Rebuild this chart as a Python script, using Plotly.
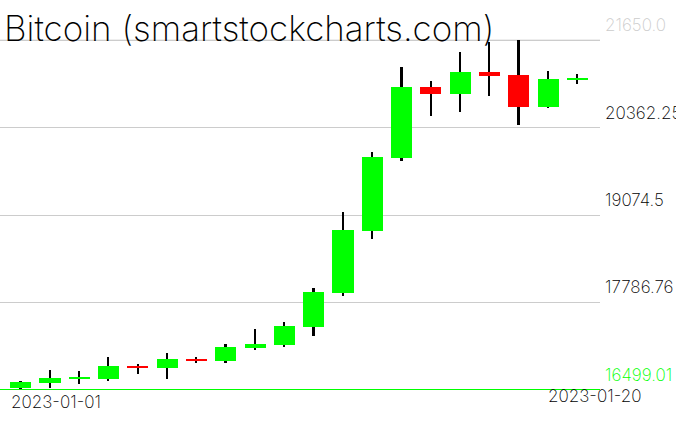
import datetime as dt
import plotly.graph_objects as go

dates = ['2023-01-%02d' % d for d in range(1, 21)]
opens = [16533, 16606, 16665, 16661, 16852, 16828, 16956, 16931, 17122, 17162,
	17427, 17928, 18845, 19921, 20962, 20863, 21183, 21139, 20672, 21070]
highs = [16632, 16794, 16779, 16985, 16882, 17044, 16985, 17177, 17397, 17501,
	18001, 19121, 20005, 21257, 21051, 21478, 21630, 21650.0, 21198, 21154]
lows = [16499.01, 16533, 16592, 16636, 16739, 16665, 16901, 16897, 17088, 17137,
	17294, 17888, 18719, 19872, 20539, 20598, 20834, 20407, 20657, 21011]
closes = [16617, 16676, 16685, 16852, 16827, 16956, 16931, 17132, 17181, 17442,
	17942, 18856, 19935, 20962, 20863, 21183, 21129, 20672, 21080, 21095]

ytick_vals = [16499.01, 17786.76, 19074.5, 20362.25, 21650.0]
ytick_labels = ['16499.01', '17786.76', '19074.5', '20362.25', '21650.0']
ytick_colors = ['#00ff00', 'black', 'black', 'black', '#cccccc']
xlabels = ['2023-01-01', '2023-01-20']

UP = '#00ff00'
DOWN = '#ff0000'
GRID = '#cccccc'
DAY = 86400000
FONT = 'Inter'
W = 200

body_base = [min(o, c) for o, c in zip(opens, closes)]
body_len = [abs(c - o) for o, c in zip(opens, closes)]
body_col = [UP if c >= o else DOWN for o, c in zip(opens, closes)]

fig = go.Figure()
# wicks first so the bodies sit on top of them
fig.add_trace(go.Bar(x=dates, y=[h - l for h, l in zip(highs, lows)], base=lows,
	width=0.06 * DAY, marker=dict(color='black', line=dict(width=0)), hoverinfo='skip'))
fig.add_trace(go.Bar(x=dates, y=body_len, base=body_base,
	width=0.72 * DAY, marker=dict(color=body_col, line=dict(width=0))))

d0 = dt.datetime.fromisoformat(dates[0])
d1 = dt.datetime.fromisoformat(dates[-1])

fig.update_layout(
	width=676, height=431,
	margin=dict(l=0, r=76, t=38, b=41),
	paper_bgcolor='white', plot_bgcolor='white',
	showlegend=False, barmode='overlay', bargap=0,
	font=dict(family=FONT, size=17, color='black', weight=W),
	xaxis=dict(type='date', range=[d0 - dt.timedelta(days=0.706), d1 + dt.timedelta(days=0.77)],
		showgrid=False, showticklabels=False, zeroline=False, showline=False, ticks=''),
	yaxis=dict(side='right', range=[ytick_vals[0] - 2, ytick_vals[-1] + 32], tickvals=ytick_vals,
		ticktext=['<span style="color:%s">%s</span>' % (c, t) for c, t in zip(ytick_colors, ytick_labels)],
		ticklabelposition='outside top', ticklabelshift=-3, ticklabelstandoff=4,
		showgrid=True, gridcolor=GRID, gridwidth=1,
		zeroline=False, showline=False, ticks='', automargin=False,
		tickfont=dict(family=FONT, size=17, weight=W)),
)

# top grid line (plotly drops the one at the edge) and green base line
fig.add_shape(type='line', xref='paper', x0=0, x1=1, yref='y', y0=ytick_vals[-1], y1=ytick_vals[-1],
	line=dict(color=GRID, width=1), layer='below')
fig.add_shape(type='line', xref='paper', x0=0, x1=1, yref='y', y0=ytick_vals[0], y1=ytick_vals[0],
	line=dict(color=UP, width=1.5), layer='above')

fig.add_annotation(text='Bitcoin (smartstockcharts.com)', xref='paper', yref='paper',
	x=0.004, y=1, xanchor='left', yanchor='bottom', yshift=-13, showarrow=False,
	font=dict(family=FONT, size=35, color='black', weight=W))
fig.add_annotation(text=xlabels[0], xref='paper', yref='paper', x=56 / 600, y=0,
	xanchor='center', yanchor='top', yshift=0, showarrow=False,
	font=dict(family=FONT, size=17, color='black', weight=W))
fig.add_annotation(text=xlabels[1], xref='paper', yref='paper', x=594 / 600, y=0,
	xanchor='center', yanchor='top', yshift=6, showarrow=False,
	font=dict(family=FONT, size=17, color='black', weight=W))

fig.write_html("out.html", config={'displayModeBar': False},
	post_script="document.body.style.margin='0';")
